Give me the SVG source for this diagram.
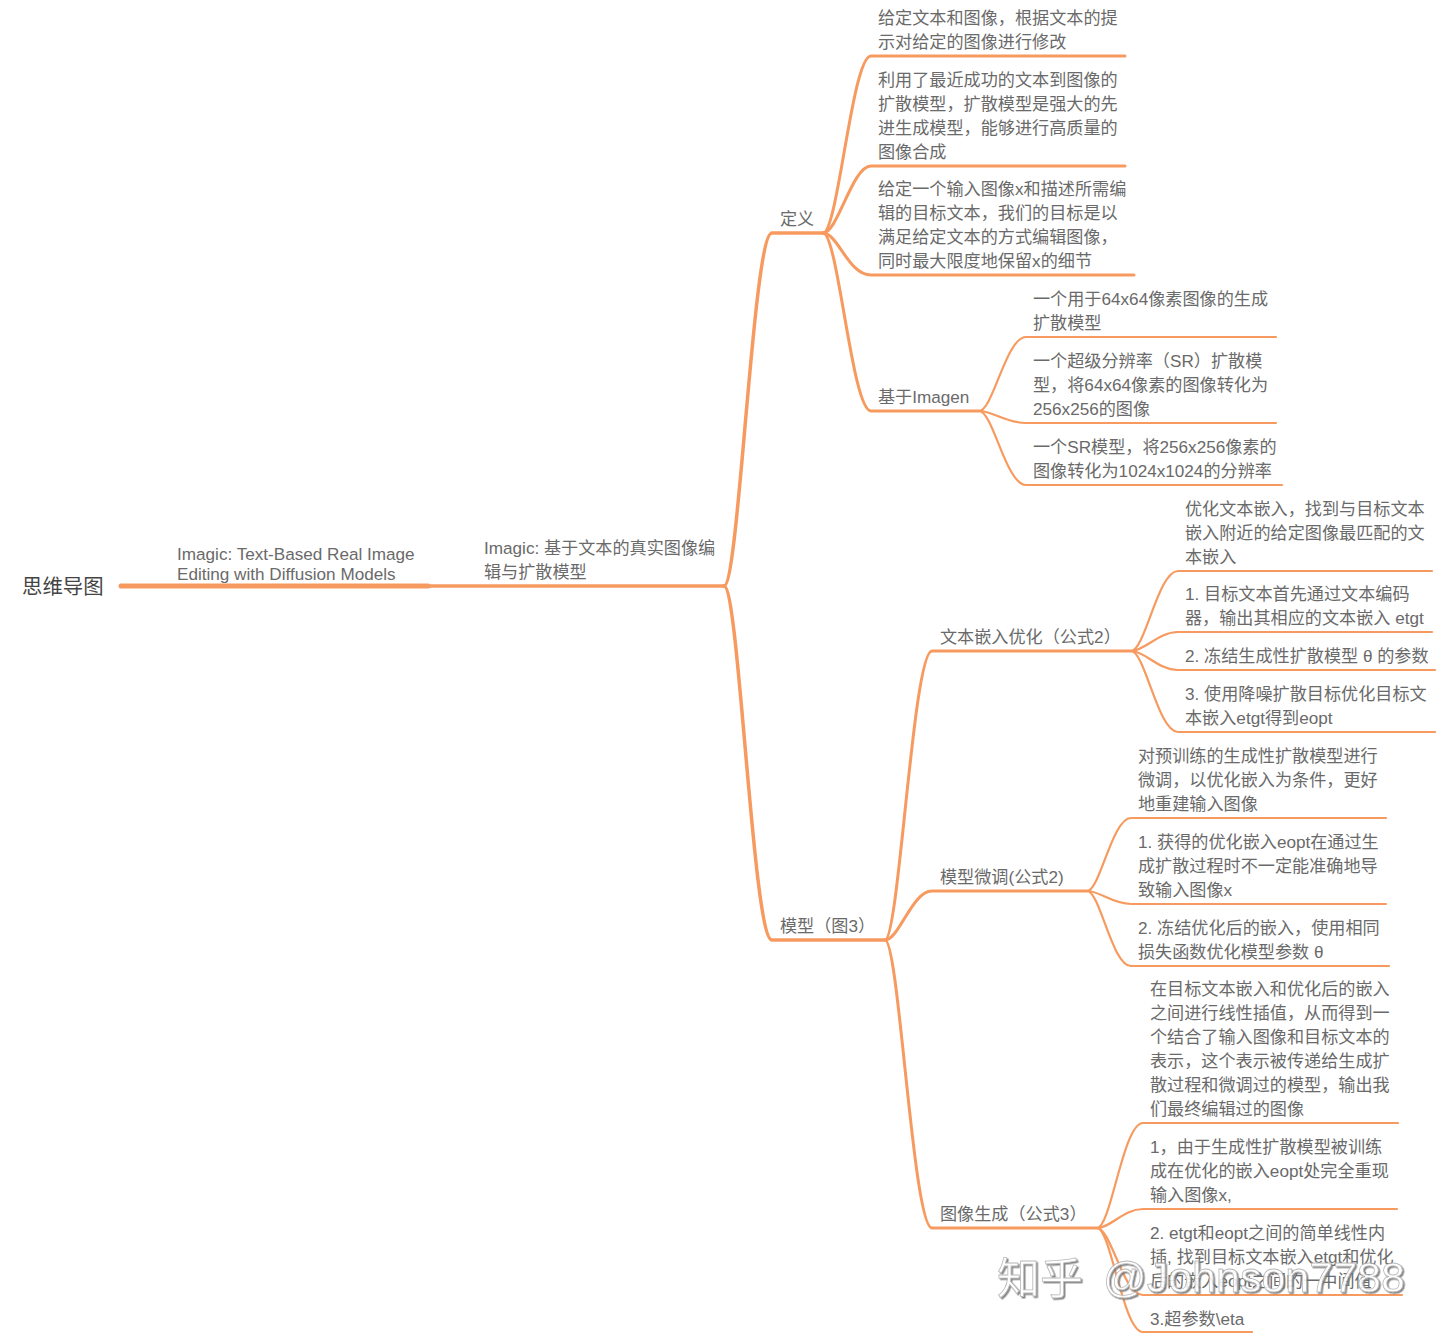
<svg xmlns="http://www.w3.org/2000/svg" width="1440" height="1336" viewBox="0 0 1440 1336">
<style>
text{font-family:"Liberation Sans","Noto Sans CJK SC",sans-serif;font-size:17.14px;fill:#6a6a6a;transform:translateY(.2px)}
.c{fill:none;stroke:#f79a5f;stroke-linecap:round}
.a{stroke-width:3.5}.b{stroke-width:3}.d{stroke-width:2.2}
.w{font-size:43px;fill:#fff;stroke:#b0b0b0;stroke-width:.8;opacity:.88;filter:url(#sh)}
</style>
<defs><filter id="sh" x="-10%" y="-20%" width="120%" height="140%"><feDropShadow dx="1.5" dy="1.5" stdDeviation=".6" flood-color="#777"/></filter></defs>
<g id="connectors">
<path class="c" style="stroke-width:5" d="M121 586H428"/>
<path class="c a" d="M428 586H724"/>
<path class="c a" d="M724 586C739 586 753 233 772 233H823"/>
<path class="c a" d="M724 586C739 586 753 940 772 940H885"/>
<path class="c b" d="M823 233C838 233 852 56 871 56H1125"/>
<path class="c b" d="M823 233C838 233 852 166 871 166H1125"/>
<path class="c b" d="M823 233C838 233 848 275 871 275H1134"/>
<path class="c b" d="M823 233C838 233 852 411 871 411H979"/>
<path class="c d" d="M979 411C993 411 1006 337 1026 337H1276"/>
<path class="c d" d="M979 411C993 411 1006 423 1026 423H1276"/>
<path class="c d" d="M979 411C993 411 1006 485 1026 485H1282"/>
<path class="c b" d="M885 940C899 940 913 651 932 651H1131"/>
<path class="c b" d="M885 940C899 940 912 891 932 891H1087"/>
<path class="c b" d="M885 940C899 940 913 1228 932 1228H1097"/>
<path class="c d" d="M1131 651C1145 651 1158 571 1178 571H1432"/>
<path class="c d" d="M1131 651C1145 651 1158 632 1178 632H1432"/>
<path class="c d" d="M1131 651C1145 651 1158 670 1178 670H1435"/>
<path class="c d" d="M1131 651C1145 651 1158 732 1178 732H1435"/>
<path class="c d" d="M1087 891C1100 891 1112 818 1131 818H1386"/>
<path class="c d" d="M1087 891C1100 891 1112 904 1131 904H1386"/>
<path class="c d" d="M1087 891C1100 891 1112 966 1131 966H1389"/>
<path class="c d" d="M1097 1228C1111 1228 1123 1123 1143 1123H1398"/>
<path class="c d" d="M1097 1228C1111 1228 1123 1209 1143 1209H1397"/>
<path class="c d" d="M1097 1228C1111 1228 1123 1295 1143 1295H1402"/>
<path class="c d" d="M1097 1228C1111 1228 1123 1332 1143 1332H1252"/>
</g>
<g id="root"><text x="22" y="594" style="font-size:20.4px;fill:#444">思维导图</text></g>
<g id="n-en"><text x="177" y="560">Imagic: Text-Based Real Image</text><text x="177" y="580">Editing with Diffusion Models</text></g>
<g id="n-zh"><text x="484" y="554">Imagic: 基于文本的真实图像编</text><text x="484" y="578">辑与扩散模型</text></g>
<g id="n-def"><text x="780" y="225">定义</text></g>
<g id="n-def1"><text x="878" y="24">给定文本和图像，根据文本的提</text><text x="878" y="48">示对给定的图像进行修改</text></g>
<g id="n-def2"><text x="878" y="86">利用了最近成功的文本到图像的</text><text x="878" y="110">扩散模型，扩散模型是强大的先</text><text x="878" y="134">进生成模型，能够进行高质量的</text><text x="878" y="158">图像合成</text></g>
<g id="n-def3"><text x="878" y="195">给定一个输入图像x和描述所需编</text><text x="878" y="219">辑的目标文本，我们的目标是以</text><text x="878" y="243">满足给定文本的方式编辑图像，</text><text x="878" y="267">同时最大限度地保留x的细节</text></g>
<g id="n-imagen"><text x="878" y="403">基于Imagen</text></g>
<g id="n-im1"><text x="1033" y="305">一个用于64x64像素图像的生成</text><text x="1033" y="329">扩散模型</text></g>
<g id="n-im2"><text x="1033" y="367">一个超级分辨率（SR）扩散模</text><text x="1033" y="391">型，将64x64像素的图像转化为</text><text x="1033" y="415">256x256的图像</text></g>
<g id="n-im3"><text x="1033" y="453">一个SR模型，将256x256像素的</text><text x="1033" y="477">图像转化为1024x1024的分辨率</text></g>
<g id="n-model"><text x="780" y="932">模型（图3）</text></g>
<g id="n-opt"><text x="940" y="643">文本嵌入优化（公式2）</text></g>
<g id="n-opt0"><text x="1185" y="515">优化文本嵌入，找到与目标文本</text><text x="1185" y="539">嵌入附近的给定图像最匹配的文</text><text x="1185" y="563">本嵌入</text></g>
<g id="n-opt1"><text x="1185" y="600">1. 目标文本首先通过文本编码</text><text x="1185" y="624">器，输出其相应的文本嵌入 etgt</text></g>
<g id="n-opt2"><text x="1185" y="662">2. 冻结生成性扩散模型 θ 的参数</text></g>
<g id="n-opt3"><text x="1185" y="700">3. 使用降噪扩散目标优化目标文</text><text x="1185" y="724">本嵌入etgt得到eopt</text></g>
<g id="n-fine"><text x="940" y="883">模型微调(公式2)</text></g>
<g id="n-fine0"><text x="1138" y="762">对预训练的生成性扩散模型进行</text><text x="1138" y="786">微调，以优化嵌入为条件，更好</text><text x="1138" y="810">地重建输入图像</text></g>
<g id="n-fine1"><text x="1138" y="848">1. 获得的优化嵌入eopt在通过生</text><text x="1138" y="872">成扩散过程时不一定能准确地导</text><text x="1138" y="896">致输入图像x</text></g>
<g id="n-fine2"><text x="1138" y="934">2. 冻结优化后的嵌入，使用相同</text><text x="1138" y="958">损失函数优化模型参数 θ</text></g>
<g id="n-gen"><text x="940" y="1220">图像生成（公式3）</text></g>
<g id="n-gen0"><text x="1150" y="995">在目标文本嵌入和优化后的嵌入</text><text x="1150" y="1019">之间进行线性插值，从而得到一</text><text x="1150" y="1043">个结合了输入图像和目标文本的</text><text x="1150" y="1067">表示，这个表示被传递给生成扩</text><text x="1150" y="1091">散过程和微调过的模型，输出我</text><text x="1150" y="1115">们最终编辑过的图像</text></g>
<g id="n-gen1"><text x="1150" y="1153">1，由于生成性扩散模型被训练</text><text x="1150" y="1177">成在优化的嵌入eopt处完全重现</text><text x="1150" y="1201">输入图像x,</text></g>
<g id="n-gen2"><text x="1150" y="1239">2. etgt和eopt之间的简单线性内</text><text x="1150" y="1263">插, 找到目标文本嵌入etgt和优化</text><text x="1150" y="1287">后的嵌入eopt之间的一中间值</text></g>
<g id="n-gen3"><text x="1150" y="1325">3.超参数\eta</text></g>
<g id="watermark"><text class="w" x="997" y="1294">知乎</text><text class="w" x="1103" y="1292">@Johnson7788</text></g>
</svg>
